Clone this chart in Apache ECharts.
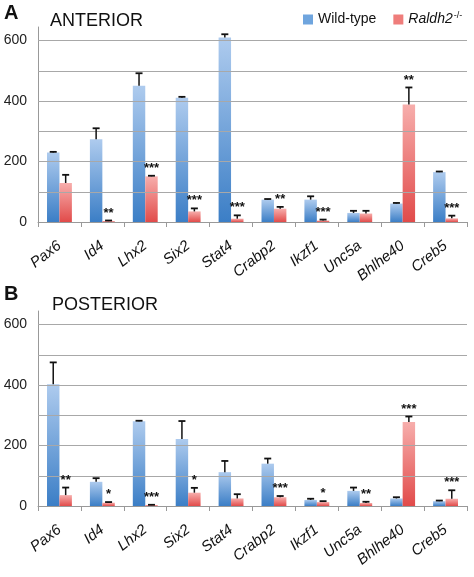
<!DOCTYPE html>
<html><head><meta charset="utf-8">
<script src="https://cdn.jsdelivr.net/npm/echarts@6/dist/echarts.min.js"></script>
<style>html,body{margin:0;padding:0;background:#fff}#c{width:474px;height:577px}</style>
</head><body><div id="c"></div>
<script>
const genes = ['Pax6','Id4','Lhx2','Six2','Stat4','Crabp2','Ikzf1','Unc5a','Bhlhe40','Creb5'];
const yTicks = [100,200,300,400,500,600];
// Panel A: ANTERIOR
const antWT    = [230,274,451,411,610,74,74,30,61,165];
const antWTerr = [2,36,41,3,11,2,11,7,2,2];
const antKO    = [129,3,151,35,11,44,5,28,389,12];
const antKOerr = [27,2,2,10,11,6,3,9,56,9];
const antStars = ['','**','***','***','***','**','***','','**','***'];
// Panel B: POSTERIOR
const postWT    = [403,80,280,222,112,140,20,50,25,16];
const postWTerr = [72,12,2,59,37,17,4,11,4,2];
const postKO    = [36,11,3,44,25,29,13,10,278,24];
const postKOerr = [25,2,1,16,14,4,3,4,18,28];
const postStars = ['**','*','***','*','','***','*','**','***','***'];

const FONT = '"Liberation Sans", Arial, sans-serif';
const blueGrad = {type:'linear',x:0,y:0,x2:0,y2:1,colorStops:[{offset:0,color:'#aecbee'},{offset:1,color:'#3b7ec6'}]};
const redGrad  = {type:'linear',x:0,y:0,x2:0,y2:1,colorStops:[{offset:0,color:'#f7aeac'},{offset:1,color:'#e14b4a'}]};
const BW = 0.29;

function errSeries(name, vals, errs, stars, sign, axis) {
  return {
    type:'custom', name: name, xAxisIndex: axis, yAxisIndex: axis, z: 5, silent: true,
    data: vals.map((v,i)=>[i, v + errs[i]]),
    encode: {x:0, y:1},
    renderItem: function(params, api) {
      const i = params.dataIndex;
      const c0 = api.coord([i, vals[i]]);
      const c1 = api.coord([i, vals[i] + errs[i]]);
      const bw = api.size([1,0])[0] * BW;
      const x = c0[0] + sign * bw / 2;
      const children = [
        {type:'line', shape:{x1:x,y1:c0[1],x2:x,y2:c1[1]}, style:{stroke:'#111',lineWidth:1.5}},
        {type:'line', shape:{x1:x-3.5,y1:c1[1],x2:x+3.5,y2:c1[1]}, style:{stroke:'#111',lineWidth:1.8}}
      ];
      if (stars && stars[i]) {
        children.push({type:'text', x:x, y:c1[1]-1, style:{text:stars[i], fill:'#111', font:'bold 13px ' + FONT, textAlign:'center', textVerticalAlign:'bottom'}});
      }
      return {type:'group', children: children};
    }
  };
}

function gridLines() {
  return {silent:true, symbol:['none','none'], label:{show:false},
    lineStyle:{color:'#a8a8a8', type:'solid', width:1},
    data: yTicks.map(v=>({yAxis:v}))};
}

const xAxisBase = (idx) => ({
  type:'category', data: genes, gridIndex: idx,
  axisLine:{lineStyle:{color:'#999', width:1}},
  axisTick:{show:true, length:5, lineStyle:{color:'#999'}},
  axisLabel:{rotate:38, margin:22, fontSize:15, fontStyle:'italic', color:'#111', fontFamily: FONT, interval:0}
});
const yAxisBase = (idx) => ({
  type:'value', gridIndex: idx, min:0, max:645, interval:200,
  axisLine:{show:true, lineStyle:{color:'#999', width:1}},
  axisTick:{show:false}, splitLine:{show:false},
  axisLabel:{showMaxLabel:false, fontSize:14, color:'#222', fontFamily: FONT, margin:11}
});

const chart = echarts.init(document.getElementById('c'));
chart.setOption({
  animation:false,
  textStyle:{fontFamily: FONT},
  grid:[
    {left:38, right:7, top:27, bottom:355},
    {left:38, right:7, top:311, bottom:71}
  ],
  xAxis:[xAxisBase(0), xAxisBase(1)],
  yAxis:[yAxisBase(0), yAxisBase(1)],
  legend:{
    left:303, top:11, padding:0, itemWidth:10, itemHeight:10, itemGap:17, icon:'rect',
    data:[
      {name:'Wild-type', itemStyle:{color:'#6fa5de'}},
      {name:'Raldh2', itemStyle:{color:'#ef7d7b'}}
    ],
    textStyle:{fontSize:14, color:'#111', fontFamily: FONT,
      rich:{i:{fontStyle:'italic', fontSize:14, color:'#111'}, s:{fontSize:9, color:'#111', verticalAlign:'top', padding:[0,0,8,1]}}},
    formatter: n => n === 'Raldh2' ? '{i|Raldh2}{s|-/-}' : n
  },
  graphic:[
    {type:'text', left:4, top:3, style:{text:'A', font:'bold 20px ' + FONT, fill:'#111'}},
    {type:'text', left:50, top:12, style:{text:'ANTERIOR', font:'18px ' + FONT, fill:'#111'}},
    {type:'text', left:4, top:284, style:{text:'B', font:'bold 20px ' + FONT, fill:'#111'}},
    {type:'text', left:52, top:296, style:{text:'POSTERIOR', font:'18px ' + FONT, fill:'#111'}}
  ],
  series:[
    {type:'bar', name:'Wild-type', xAxisIndex:0, yAxisIndex:0, data: antWT, barWidth:'29%', barGap:'0%', itemStyle:{color: blueGrad}, markLine: gridLines(), z:2},
    {type:'bar', name:'Raldh2', xAxisIndex:0, yAxisIndex:0, data: antKO, barWidth:'29%', barGap:'0%', itemStyle:{color: redGrad}, z:2},
    {type:'bar', name:'Wild-type', xAxisIndex:1, yAxisIndex:1, data: postWT, barWidth:'29%', barGap:'0%', itemStyle:{color: blueGrad}, markLine: gridLines(), z:2},
    {type:'bar', name:'Raldh2', xAxisIndex:1, yAxisIndex:1, data: postKO, barWidth:'29%', barGap:'0%', itemStyle:{color: redGrad}, z:2},
    errSeries('errA1', antWT, antWTerr, null, -1, 0),
    errSeries('errA2', antKO, antKOerr, antStars, 1, 0),
    errSeries('errB1', postWT, postWTerr, null, -1, 1),
    errSeries('errB2', postKO, postKOerr, postStars, 1, 1)
  ]
});
</script></body></html>
